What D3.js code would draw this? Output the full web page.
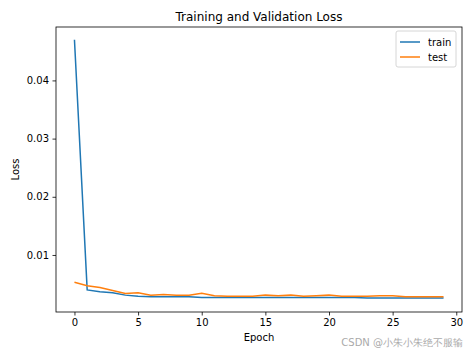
<!DOCTYPE html>
<html><head><meta charset="utf-8">
<script src="https://cdn.jsdelivr.net/npm/d3@7"></script>
<style>body{margin:0;background:#fff}svg{display:block}text{font-family:"DejaVu Sans",sans-serif}</style>
</head><body>
<script>
const epochs = d3.range(30);
const trainLoss = [0.0470,0.0040,0.0037,0.0035,0.0031,0.0029,0.0028,0.0028,0.0028,0.0028,0.0027,0.0027,0.0027,0.0027,0.0027,0.0027,0.0027,0.0027,0.0027,0.0027,0.0027,0.0027,0.0027,0.0026,0.0026,0.0026,0.0026,0.0026,0.0026,0.0026];
const testLoss = [0.0053,0.0047,0.0044,0.0039,0.0034,0.0035,0.0031,0.0032,0.0031,0.0031,0.0034,0.0030,0.0029,0.0029,0.0029,0.0031,0.0030,0.0031,0.0029,0.0030,0.0031,0.0029,0.0029,0.0029,0.0030,0.0030,0.0028,0.0028,0.0028,0.0028];
const xTicks = [0,5,10,15,20,25,30];
const yTicks = [0.01,0.02,0.03,0.04];
const seriesNames = ["train","test"];
const colors = ["#1f77b4","#ff7f0e"];

const W=474,H=355;
const L=56,R=462,T=27,B=312;
const svg=d3.select("body").append("svg").attr("width",W).attr("height",H);
const x=d3.scaleLinear().domain([-1.45,30.45]).range([L,R]);
const y=d3.scaleLinear().domain([0.00020,0.04918]).range([B,T]);

const line=d3.line().x((d,i)=>x(epochs[i])).y(d=>y(d));
[trainLoss,testLoss].forEach((s,k)=>{
  svg.append("path").datum(s).attr("d",line).attr("fill","none").attr("stroke",colors[k]).attr("stroke-width",1.5);
});

const xa=svg.append("g").attr("transform",`translate(0,${B})`).call(d3.axisBottom(x).tickValues(xTicks).tickFormat(d3.format("d")).tickSize(3.5).tickPadding(3.5));
const ya=svg.append("g").attr("transform",`translate(${L},0)`).call(d3.axisLeft(y).tickValues(yTicks).tickFormat(d3.format(".2f")).tickSize(3.5).tickPadding(3.5));
[xa,ya].forEach(a=>{a.select(".domain").remove();a.selectAll("text").attr("font-size",10).attr("fill","#000").attr("font-family","DejaVu Sans");a.selectAll("line").attr("stroke","#000").attr("stroke-width",0.8);});
svg.append("rect").attr("x",L).attr("y",T).attr("width",R-L).attr("height",B-T).attr("fill","none").attr("stroke","#000").attr("stroke-width",0.8);

svg.append("text").attr("x",(L+R)/2).attr("y",T-6).attr("text-anchor","middle").attr("font-size",12).text("Training and Validation Loss");
svg.append("text").attr("x",(L+R)/2).attr("y",341).attr("text-anchor","middle").attr("font-size",10).text("Epoch");
svg.append("text").attr("transform",`translate(19,${(T+B)/2}) rotate(-90)`).attr("text-anchor","middle").attr("font-size",10).text("Loss");

const lg=svg.append("g");
lg.append("rect").attr("x",396).attr("y",31).attr("width",60).attr("height",36).attr("rx",2).attr("fill","#fff").attr("stroke","#ccc").attr("stroke-width",0.8);
seriesNames.forEach((n,i)=>{
  const yy=42+i*15;
  lg.append("line").attr("x1",400).attr("x2",420).attr("y1",yy).attr("y2",yy).attr("stroke",colors[i]).attr("stroke-width",1.5);
  lg.append("text").attr("x",428).attr("y",yy+3.5).attr("font-size",10).text(n);
});

svg.append("text").attr("x",463).attr("y",346).attr("text-anchor","end").attr("font-size",10).attr("fill","#aaa").attr("font-family","'Noto Sans CJK SC',sans-serif").text("CSDN @小朱小朱绝不服输");
</script>
</body></html>
